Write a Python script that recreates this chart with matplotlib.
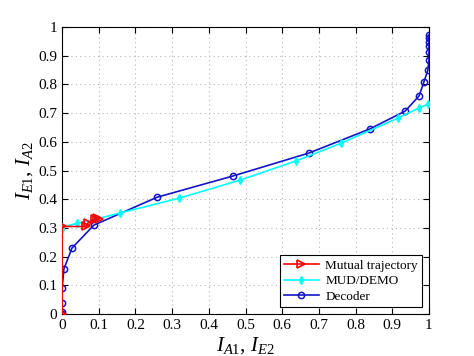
import numpy as np
import matplotlib.pyplot as plt

plt.rcParams['font.family'] = 'Liberation Serif'
plt.rcParams['mathtext.fontset'] = 'custom'
plt.rcParams['mathtext.it'] = 'Liberation Serif:italic'
plt.rcParams['mathtext.rm'] = 'Liberation Serif'

# mutual trajectory
mut_x = [0, 0, 0.065, 0.07, 0.09, 0.095, 0.1]
mut_y = [0, 0.305, 0.305, 0.317, 0.33, 0.335, 0.332]

# MUD/DEMO
mud_x = [0, 0, 0.041, 0.09, 0.158, 0.32, 0.486, 0.637, 0.76, 0.916, 0.973, 0.997]
mud_y = [0.296, 0.303, 0.316, 0.33, 0.352, 0.404, 0.467, 0.533, 0.595, 0.683, 0.718, 0.731]

# decoder
dec_x = [0, 0, 0, 0, 0.005, 0.027, 0.087, 0.259, 0.466, 0.673, 0.839, 0.935,
         0.973, 0.986, 0.997, 1, 1, 1, 1, 1, 1]
dec_y = [0, 0.007, 0.038, 0.09, 0.157, 0.23, 0.31, 0.407, 0.481, 0.561, 0.645, 0.707,
         0.76, 0.808, 0.85, 0.885, 0.913, 0.934, 0.948, 0.962, 0.972]

fig = plt.figure(figsize=(4.74, 3.56), dpi=100)
ax = fig.add_axes([0.131, 0.118, 0.774, 0.806])

ax.plot(mut_x, mut_y, '-', color='red', marker='>', markersize=6,
        markerfacecolor='none', markeredgewidth=1.2, linewidth=1.2,
        label='Mutual trajectory', zorder=4)
ax.plot(mud_x, mud_y, '-', color='cyan', marker='d', markersize=4,
        linewidth=1.2, label='MUD/DEMO', zorder=3)
ax.plot(dec_x, dec_y, '-', color='#1414c8', marker='o', markersize=4.5,
        markerfacecolor='none', markeredgewidth=1.1, linewidth=1.2,
        label='Decoder', zorder=2)

ticks = np.arange(0, 1.01, 0.1)
labels = ['0'] + ['%.1f' % t for t in ticks[1:-1]] + ['1']
ax.set_xlim(0, 1)
ax.set_ylim(0, 1)
ax.set_xticks(ticks)
ax.set_yticks(ticks)
ax.set_xticklabels(labels)
ax.set_yticklabels(labels)
ax.tick_params(direction='in', top=True, right=True, labelsize=11, length=4)
ax.grid(True, linestyle=(0, (1, 3)), color='#b8b8b8', linewidth=0.8)

ax.set_xlabel(r'$I_{A1},\, I_{E2}$', fontsize=15, labelpad=2)
ax.set_ylabel(r'$I_{E1},\, I_{A2}$', fontsize=15, labelpad=2)

leg = ax.legend(loc='lower right', fontsize=9.5, fancybox=False, framealpha=1,
                edgecolor='black', borderpad=0.35, handlelength=2.6,
                labelspacing=0.25, borderaxespad=0.5, handletextpad=0.5)
leg.get_frame().set_linewidth(0.8)

fig.savefig('out.png', dpi=100)
